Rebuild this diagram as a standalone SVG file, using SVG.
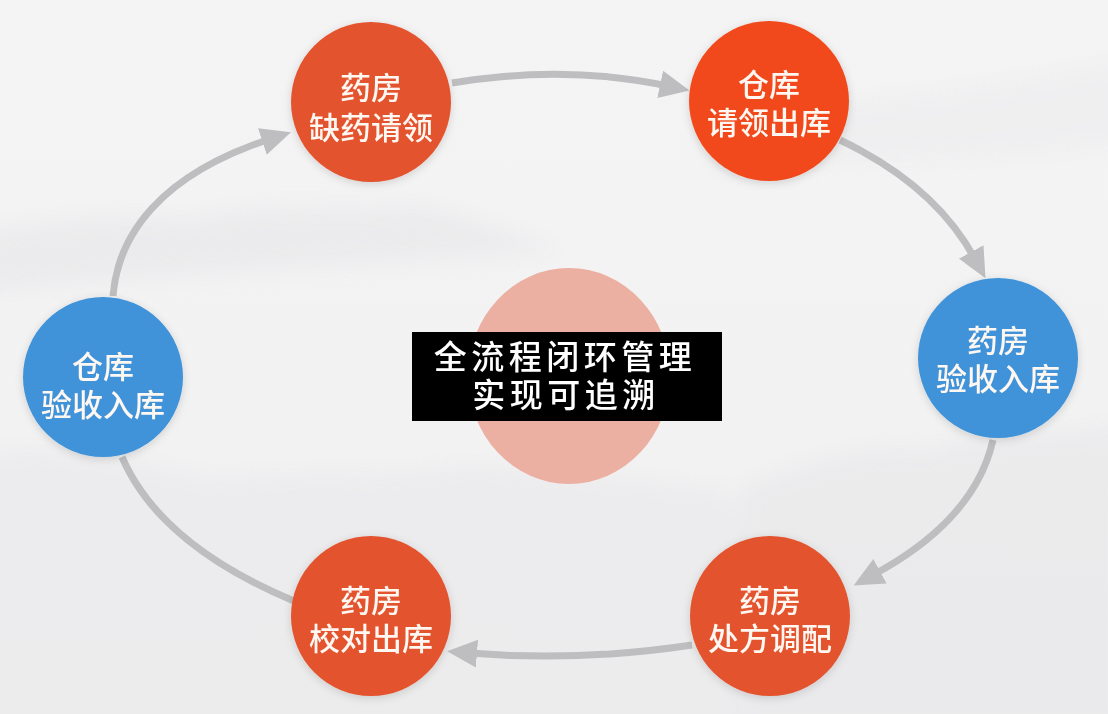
<svg xmlns="http://www.w3.org/2000/svg" width="1108" height="714" viewBox="0 0 1108 714">
  <defs>
    <style>
      .conn { fill: none; stroke: #BEBEC0; stroke-width: 7; stroke-linecap: butt; }
      .orange { fill: #E3532E; }
      .red { fill: #F14A1C; }
      .blue { fill: #3F93D8; }
      .ntext { font-family: "Noto Sans CJK SC", "Noto Sans", sans-serif; font-size: 31px; font-weight: 500; fill: #FFF8F2; text-anchor: middle; }
      .ctext { font-family: "Noto Sans CJK SC", "Noto Sans", sans-serif; font-size: 33px; fill: #FFFFFF; text-anchor: middle; letter-spacing: 4.5px; font-weight: 500; }
      .mtn { fill: #E6E6E8; }
    </style>
    <marker id="arrow" markerUnits="userSpaceOnUse" markerWidth="30" markerHeight="30" viewBox="0 0 30 30" refX="8" refY="15" orient="auto">
      <path d="M0,1 L30,15 L0,29 Z" fill="#BEBEC0"/>
    </marker>
    <filter id="shadow" x="-20%" y="-20%" width="140%" height="140%">
      <feDropShadow dx="0" dy="2" stdDeviation="4" flood-color="#000000" flood-opacity="0.14"/>
    </filter>
    <filter id="soft" x="-10%" y="-20%" width="120%" height="140%">
      <feGaussianBlur stdDeviation="10"/>
    </filter>
    <linearGradient id="bg" x1="0" y1="0" x2="0" y2="1">
      <stop offset="0" stop-color="#F4F4F5"/>
      <stop offset="1" stop-color="#F1F1F2"/>
    </linearGradient>
  </defs>

  <!-- background -->
  <rect x="0" y="0" width="1108" height="714" fill="url(#bg)"/>
  <g id="background-mountains" filter="url(#soft)" opacity="0.6">
    <path class="mtn" d="M-20,232 C60,222 120,212 190,220 C260,200 330,214 420,206 C480,220 520,240 560,250 C400,262 200,270 -20,292 Z"/>
    <path class="mtn" d="M-20,455 C80,440 150,470 220,480 C300,470 360,480 430,470 C520,462 600,480 720,490 C760,520 760,640 740,734 L-20,734 Z" opacity="0.8"/>
    <path class="mtn" d="M740,490 C820,455 880,445 930,452 C980,430 1040,440 1128,425 L1128,734 L740,734 Z"/>
    <path class="mtn" d="M700,130 C800,95 900,110 1128,60 L1128,140 C950,170 850,150 720,175 Z" opacity="0.5"/>
  </g>

  <!-- connectors -->
  <g id="connectors">
    <path class="conn" d="M452,83 Q565,64 668,86" marker-end="url(#arrow)"/>
    <path class="conn" d="M840,140 Q935,185 975,259" marker-end="url(#arrow)"/>
    <path class="conn" d="M993,440 Q975,520 873,575" marker-end="url(#arrow)"/>
    <path class="conn" d="M692,645 Q580,662 469,653" marker-end="url(#arrow)"/>
    <path class="conn" d="M122,457 Q160,545 294,601"/>
    <path class="conn" d="M113,296 C118,235 160,175 270,139" marker-end="url(#arrow)"/>
  </g>

  <!-- center -->
  <g id="center">
    <ellipse cx="569" cy="376" rx="101" ry="108" fill="#EBB0A2"/>
    <rect x="412" y="332" width="310" height="89" fill="#000000"/>
    <text class="ctext" x="565" y="369">全流程闭环管理</text>
    <text class="ctext" x="566" y="407">实现可追溯</text>
  </g>

  <!-- nodes -->
  <g id="node-pharmacy-request">
    <circle class="orange" cx="371" cy="102" r="80" filter="url(#shadow)"/>
    <text class="ntext" x="371" y="99">药房</text>
    <text class="ntext" x="371" y="139">缺药请领</text>
  </g>
  <g id="node-warehouse-out">
    <circle class="red" cx="769" cy="101" r="80" filter="url(#shadow)"/>
    <text class="ntext" x="769" y="96">仓库</text>
    <text class="ntext" x="769" y="134">请领出库</text>
  </g>
  <g id="node-pharmacy-receive">
    <circle class="blue" cx="998" cy="358" r="80" filter="url(#shadow)"/>
    <text class="ntext" x="998" y="352">药房</text>
    <text class="ntext" x="998" y="390">验收入库</text>
  </g>
  <g id="node-pharmacy-dispense">
    <circle class="orange" cx="770" cy="616" r="80" filter="url(#shadow)"/>
    <text class="ntext" x="770" y="612">药房</text>
    <text class="ntext" x="770" y="650">处方调配</text>
  </g>
  <g id="node-pharmacy-check">
    <circle class="orange" cx="371" cy="616" r="80" filter="url(#shadow)"/>
    <text class="ntext" x="371" y="612">药房</text>
    <text class="ntext" x="371" y="650">校对出库</text>
  </g>
  <g id="node-warehouse-receive">
    <circle class="blue" cx="103" cy="377" r="80" filter="url(#shadow)"/>
    <text class="ntext" x="103" y="378">仓库</text>
    <text class="ntext" x="103" y="416">验收入库</text>
  </g>
</svg>
